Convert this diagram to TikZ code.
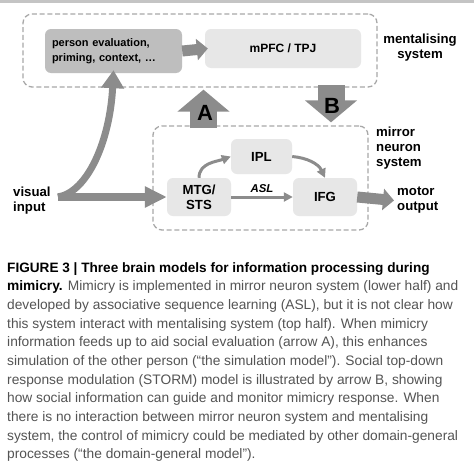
\documentclass[tikz,border=0pt]{standalone}
\usepackage{fontspec}
\setmainfont{Liberation Sans}
\usetikzlibrary{arrows.meta,calc}
\definecolor{arrowgray}{HTML}{8C8C8C}
\definecolor{dashgray}{HTML}{A8A8A8}
\definecolor{darkbox}{HTML}{BEBEBE}
\definecolor{lightbox}{HTML}{E7E7E7}
\definecolor{captext}{HTML}{545454}
\definecolor{topbar}{HTML}{C4C4C4}
\begin{document}
\begin{tikzpicture}[x=1pt,y=-1pt,
  region/.style={draw=dashgray, dash pattern=on 5pt off 2.7pt, line width=1.3pt, rounded corners=9pt, inner sep=0pt},
  area/.style={fill=lightbox, rounded corners=6pt, font=\fontsize{13.2}{15}\selectfont\bfseries, align=center, inner sep=0pt},
  lbl/.style={font=\fontsize{13.2}{15}\selectfont\bfseries, inner sep=0pt},
  fatarrow/.style={draw=arrowgray, line width=11pt, -{Triangle[width=21pt,length=11pt]}},
  inarrow/.style={draw=arrowgray, line width=8pt, -{Triangle[width=20pt,length=22pt]}},
  curvearrow/.style={draw=arrowgray, line width=7pt, -{Triangle[width=22pt,length=18pt]}},
  blockarrow/.style={draw=arrowgray, line width=27pt, -{Triangle[width=51pt,length=22pt]}},
  thinarrow/.style={draw=arrowgray, line width=3pt, -{Triangle[width=9pt,length=9pt]}},
  bigletter/.style={font=\fontsize{22}{22}\selectfont\bfseries, inner sep=0pt},
  capline/.style={anchor=base west, inner sep=0pt, font=\fontsize{13.75}{15}\selectfont, text=captext}
]
\useasboundingbox[fill=white] (0,0) rectangle (474,474);
\fill[topbar] (0,0) rectangle (474,2.5);

% regions
\node[region, minimum width=354pt, minimum height=73pt] (ment) at (200,50.5) {};
\node[region, minimum width=215pt, minimum height=104pt] (mirror) at (260.5,178) {};

% boxes
\node[area, fill=darkbox, align=left, text width=123pt, inner xsep=7pt, minimum height=44pt, font=\fontsize{11}{15}\selectfont\bfseries] (person) at (113.5,51) {person evaluation,\\priming, context, \ldots};
\node[area, minimum width=156pt, minimum height=39pt, font=\fontsize{12}{15}\selectfont\bfseries] (mpfc) at (283,48.5) {mPFC / TPJ};
\node[area, minimum width=61pt, minimum height=35pt] (ipl) at (261.5,156.5) {IPL};
\node[area, minimum width=64pt, minimum height=38pt] (mtg) at (199,197) {MTG/\\STS};
\node[area, minimum width=64pt, minimum height=38pt] (ifg) at (325,197) {IFG};

% labels
\node[lbl, align=center] (mentlbl) at (420,47.5) {mentalising\\system};
\node[lbl, align=left, anchor=west] (mirrlbl) at (376,148) {mirror\\neuron\\system};
\node[lbl, align=left, anchor=west] (vin) at (13,200.5) {visual\\input};
\node[lbl, align=left, anchor=west] (mout) at (397,200.5) {motor\\output};

% connectors
\coordinate (vstart) at (58,197);
\draw[fatarrow] (person.east) -- ([xshift=3pt]mpfc.west);
\draw[inarrow] (vstart) -- (mtg.west);
\draw[curvearrow] (vstart) .. controls (88,192) and (110,140) .. ([yshift=3pt]person.south);
\draw[fatarrow] (ifg.east) -- ([xshift=-3pt]mout.west);

\coordinate (Abase) at (203.5,128);
\draw[blockarrow] (Abase) -- ([yshift=-2pt]Abase |- ment.south);
\node[bigletter] (Alab) at (205,113) {A};
\coordinate (Btop) at (331,85);
\draw[blockarrow] (Btop) -- ([yshift=3pt]Btop |- mirror.north);
\node[bigletter] (Blab) at (332,106) {B};

\draw[thinarrow] (mtg.east) -- (ifg.west) node[midway, above=3pt, font=\fontsize{11.4}{13}\selectfont\bfseries\itshape, inner sep=0pt] (asl) {ASL};
\draw[thinarrow] (mtg.north) to[out=90, in=200] (ipl.west);
\draw[thinarrow] (ipl.east) to[out=-5, in=115] (ifg.north);

% caption
\node[capline, text=black, font=\fontsize{13.6}{15}\selectfont\bfseries] (c1) at (7,272) {FIGURE 3 | Three brain models for information processing during};
\node[capline] (c2) at (7,290.7) {\textcolor{black}{\bfseries mimicry.} Mimicry is implemented in mirror neuron system (lower half) and};
\node[capline] (c3) at (7,309.3) {developed by associative sequence learning (ASL), but it is not clear how};
\node[capline] (c4) at (7,328) {this system interact with mentalising system (top half). When mimicry};
\node[capline] (c5) at (7,346.7) {information feeds up to aid social evaluation (arrow A), this enhances};
\node[capline] (c6) at (7,365.3) {simulation of the other person (“the simulation model”). Social top-down};
\node[capline] (c7) at (7,384) {response modulation (STORM) model is illustrated by arrow B, showing};
\node[capline] (c8) at (7,402.7) {how social information can guide and monitor mimicry response. When};
\node[capline] (c9) at (7,421.3) {there is no interaction between mirror neuron system and mentalising};
\node[capline] (c10) at (7,440) {system, the control of mimicry could be mediated by other domain-general};
\node[capline] (c11) at (7,458.7) {processes (“the domain-general model”).};
\end{tikzpicture}
\end{document}
